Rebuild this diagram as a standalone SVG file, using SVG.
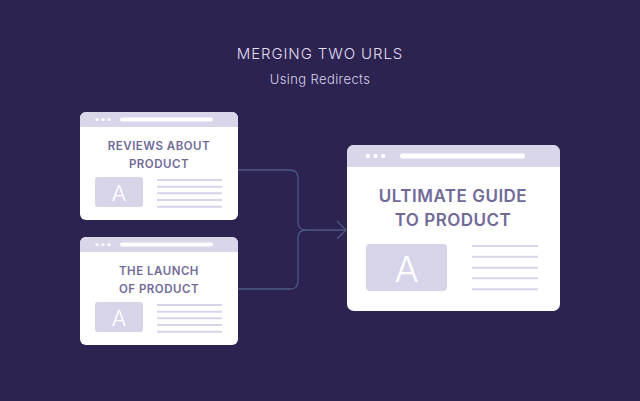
<svg xmlns="http://www.w3.org/2000/svg" width="640" height="401" viewBox="0 0 640 401">
<style>
.card{fill:#ffffff}
.hdr{fill:#d9d6ea}
.dot{fill:#ffffff}
.bar{fill:#ffffff}
.img{fill:#d7d4ea}
.ln{stroke:#d7d4ea;stroke-width:2}
.t{font-family:Inter,"Liberation Sans",sans-serif;font-weight:600;fill:#716a97;text-anchor:middle;letter-spacing:0.5px}
.a{font-family:Inter,"Liberation Sans",sans-serif;font-weight:300;fill:#ffffff;text-anchor:middle}
.conn{fill:none;stroke:#4b5983;stroke-width:1.3}
</style>
<defs>
<clipPath id="c1"><rect x="80" y="112" width="158" height="108" rx="6"/></clipPath>
<clipPath id="c2"><rect x="80" y="237" width="158" height="108" rx="6"/></clipPath>
<clipPath id="c3"><rect x="347" y="145" width="213" height="166" rx="7"/></clipPath>
</defs>
<rect width="640" height="401" fill="#2d2350"/>
<text x="320" y="59" font-family="Inter,'Liberation Sans',sans-serif" font-size="15" font-weight="300" fill="#e2def2" text-anchor="middle" letter-spacing="0.9">MERGING TWO URLS</text>
<text x="320" y="84" font-family="Inter,'Liberation Sans',sans-serif" font-size="13" font-weight="300" fill="#d6d2ea" text-anchor="middle" letter-spacing="0.4">Using Redirects</text>
<g id="connectors">
<path class="conn" d="M238 170 H290 Q298 170 298 178 V222 Q298 230 306 230 H346"/>
<path class="conn" d="M238 289 H290 Q298 289 298 281 V238 Q298 230 306 230"/>
<path class="conn" d="M337 221 L346 230 L337 239"/>
</g>
<g id="card1">
<g clip-path="url(#c1)">
<rect class="card" x="80" y="112" width="158" height="108"/>
<rect class="hdr" x="80" y="112" width="158" height="15"/>
</g>
<circle class="dot" cx="97" cy="119.5" r="1.6"/>
<circle class="dot" cx="103" cy="119.5" r="1.6"/>
<circle class="dot" cx="109" cy="119.5" r="1.6"/>
<rect class="bar" x="120" y="117.5" width="93" height="4" rx="2"/>
<text class="t" x="159" y="150" font-size="11.5">REVIEWS ABOUT</text>
<text class="t" x="159" y="168" font-size="11.5">PRODUCT</text>
<rect class="img" x="95" y="177" width="48" height="30" rx="3"/>
<text class="a" x="119" y="201" font-size="22">A</text>
<path class="ln" d="M157 180H222M157 186.7H222M157 193.3H222M157 200H222M157 206.7H222"/>
</g>
<g id="card2">
<g clip-path="url(#c2)">
<rect class="card" x="80" y="237" width="158" height="108"/>
<rect class="hdr" x="80" y="237" width="158" height="15"/>
</g>
<circle class="dot" cx="97" cy="244.5" r="1.6"/>
<circle class="dot" cx="103" cy="244.5" r="1.6"/>
<circle class="dot" cx="109" cy="244.5" r="1.6"/>
<rect class="bar" x="120" y="242.5" width="93" height="4" rx="2"/>
<text class="t" x="159" y="275" font-size="11.5">THE LAUNCH</text>
<text class="t" x="159" y="293" font-size="11.5">OF PRODUCT</text>
<rect class="img" x="95" y="302" width="48" height="30" rx="3"/>
<text class="a" x="119" y="326" font-size="22">A</text>
<path class="ln" d="M157 305H222M157 311.7H222M157 318.3H222M157 325H222M157 331.7H222"/>
</g>
<g id="card3">
<g clip-path="url(#c3)">
<rect class="card" x="347" y="145" width="213" height="166"/>
<rect class="hdr" x="347" y="145" width="213" height="22"/>
</g>
<circle class="dot" cx="368" cy="156" r="2.2"/>
<circle class="dot" cx="375.5" cy="156" r="2.2"/>
<circle class="dot" cx="383" cy="156" r="2.2"/>
<rect class="bar" x="400" y="153.5" width="125" height="5" rx="2.5"/>
<text class="t" x="453" y="202" font-size="17" letter-spacing="0.9">ULTIMATE GUIDE</text>
<text class="t" x="453" y="226" font-size="17" letter-spacing="0.9">TO PRODUCT</text>
<rect class="img" x="366" y="244" width="81" height="47" rx="4"/>
<text class="a" x="406.5" y="282" font-size="36">A</text>
<path class="ln" d="M472 246H538M472 256.7H538M472 267.7H538M472 278.3H538M472 289.3H538"/>
</g>
</svg>
